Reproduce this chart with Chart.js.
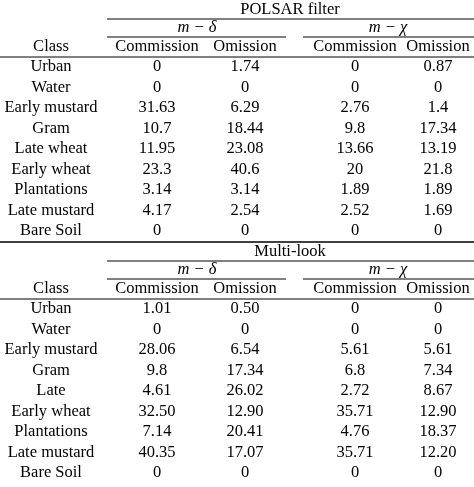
<!DOCTYPE html>
<html><head><meta charset="utf-8">
<script src="https://cdn.jsdelivr.net/npm/chart.js@4"></script>
<style>html,body{margin:0;padding:0;background:#fff}#w{width:474px;height:487px}</style>
</head><body><div id="w"><canvas id="c"></canvas></div>
<script>
const classes1 = ["Urban","Water","Early mustard","Gram","Late wheat","Early wheat","Plantations","Late mustard","Bare Soil"];
const classes2 = ["Urban","Water","Early mustard","Gram","Late","Early wheat","Plantations","Late mustard","Bare Soil"];
const colHeaders = ["Class","Commission","Omission","Commission","Omission"];
const groupHeaders = ["m − δ","m − χ"];
const sectionTitles = ["POLSAR filter","Multi-look"];
const polsarDeltaCom = ["0","0","31.63","10.7","11.95","23.3","3.14","4.17","0"];
const polsarDeltaOm  = ["1.74","0","6.29","18.44","23.08","40.6","3.14","2.54","0"];
const polsarChiCom   = ["0","0","2.76","9.8","13.66","20","1.89","2.52","0"];
const polsarChiOm    = ["0.87","0","1.4","17.34","13.19","21.8","1.89","1.69","0"];
const mlDeltaCom = ["1.01","0","28.06","9.8","4.61","32.50","7.14","40.35","0"];
const mlDeltaOm  = ["0.50","0","6.54","17.34","26.02","12.90","20.41","17.07","0"];
const mlChiCom   = ["0","0","5.61","6.8","2.72","35.71","4.76","35.71","0"];
const mlChiOm    = ["0","0","5.61","7.34","8.67","12.90","18.37","12.20","0"];

const colX = [51,157,245,355,438];
const FONT = '16.5px "Liberation Serif", "DejaVu Serif", serif';
const sections = [
  {top:0, title:sectionTitles[0], classes:classes1, cols:[polsarDeltaCom,polsarDeltaOm,polsarChiCom,polsarChiOm]},
  {top:242, title:sectionTitles[1], classes:classes2, cols:[mlDeltaCom,mlDeltaOm,mlChiCom,mlChiOm]}
];

const tablePlugin = {
  id:'table',
  afterDraw(chart){
    const ctx = chart.ctx, xs = chart.scales.x, ys = chart.scales.y;
    const X = v=>xs.getPixelForValue(v), Y = v=>ys.getPixelForValue(v);
    ctx.save();
    ctx.fillStyle='#000'; ctx.strokeStyle='#000';
    ctx.textBaseline='middle'; ctx.textAlign='center'; ctx.font=FONT;
    const hline=(x1,x2,y,w)=>{ctx.lineWidth=w;ctx.beginPath();ctx.moveTo(X(x1),Y(y));ctx.lineTo(X(x2),Y(y));ctx.stroke();};
    sections.forEach((s,si)=>{
      const t=s.top;
      ctx.fillText(s.title, X(290), Y(t+10));
      hline(107,474,t+19,1);
      ctx.font='italic '+FONT;
      ctx.fillText(groupHeaders[0], X(197), Y(t+28));
      ctx.fillText(groupHeaders[1], X(388), Y(t+28));
      ctx.font=FONT;
      hline(107,286,t+37,1); hline(303,474,t+37,1);
      colHeaders.forEach((h,i)=>ctx.fillText(h, X(colX[i]), Y(t+47)));
      hline(0,474,t+57,1);
      s.classes.forEach((c,r)=>{
        const y=t+67+r*20.5;
        ctx.fillText(c, X(colX[0]), Y(y));
        s.cols.forEach((col,ci)=>ctx.fillText(col[r], X(colX[ci+1]), Y(y)));
      });
      if(si===0) hline(0,474,t+242,1.6);
    });
    ctx.restore();
  }
};

new Chart(document.getElementById('c'),{
  type:'scatter',
  data:{datasets:[{data:[],pointRadius:0}]},
  options:{
    responsive:true, maintainAspectRatio:false, animation:false,
    layout:{padding:0},
    plugins:{legend:{display:false},tooltip:{enabled:false}},
    scales:{
      x:{type:'linear',min:0,max:474,display:false},
      y:{type:'linear',min:0,max:487,reverse:true,display:false}
    }
  },
  plugins:[tablePlugin]
});
</script></body></html>
